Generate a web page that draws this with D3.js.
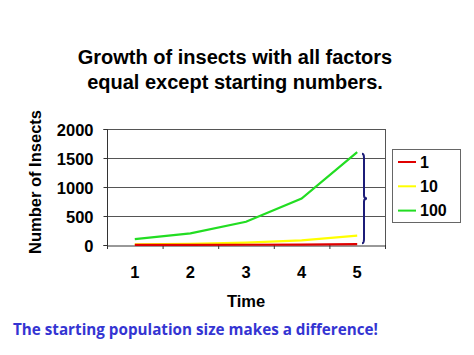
<!DOCTYPE html>
<html><head><meta charset="utf-8">
<script src="https://cdn.jsdelivr.net/npm/d3@7"></script>
<style>body{margin:0;background:#fff}svg{display:block}</style>
</head><body>
<svg id="c" width="474" height="355"></svg>
<script>
const categories = ["1","2","3","4","5"];
const series1 = [1,2,4,8,16];
const series10 = [10,20,40,80,160];
const series100 = [100,200,400,800,1600];
const seriesNames = ["1","10","100"];
const seriesColors = ["#e00000","#ffff00","#22dd22"];
const yTicks = [0,500,1000,1500,2000];

(function(){
const svg = d3.select("#c");
const pL=107, pR=385, pT=129, pB=245;
const x = d3.scaleBand().domain(categories).range([pL,pR]);
const y = d3.scaleLinear().domain([0,2000]).range([pB,pT]);
const font = "'Liberation Sans', Arial, sans-serif";

// title
svg.append("text").attr("x",235).attr("y",64).attr("text-anchor","middle")
  .attr("font-family",font).attr("font-weight","bold").attr("font-size",20)
  .text("Growth of insects with all factors");
svg.append("text").attr("x",235).attr("y",89).attr("text-anchor","middle")
  .attr("font-family",font).attr("font-weight","bold").attr("font-size",20)
  .text("equal except starting numbers.");

// gridlines
svg.append("g").selectAll("line").data(yTicks.filter(d=>d>0)).join("line")
  .attr("x1",pL).attr("x2",pR).attr("y1",d=>y(d)+0.5).attr("y2",d=>y(d)+0.5)
  .attr("stroke","#555").attr("stroke-width",1);
// right border
svg.append("line").attr("x1",pR+0.5).attr("x2",pR+0.5).attr("y1",pT).attr("y2",pB)
  .attr("stroke","#555");

// y axis
const ya = svg.append("g").attr("transform",`translate(${pL+0.5},0)`)
  .call(d3.axisLeft(y).tickValues(yTicks).tickFormat(d3.format("d")).tickSize(4).tickPadding(10));
ya.select(".domain").attr("stroke","#333").attr("d",`M-4,${pT+0.5}H0V${pB+0.5}H-4`);
ya.selectAll(".tick line").attr("stroke","#333");
ya.selectAll("text").attr("font-family",font).attr("font-weight","bold").attr("font-size",16.5).attr("fill","#000").attr("dy","0.4em");

// x axis
const xa = svg.append("g").attr("transform",`translate(0,${pB+0.5})`)
  .call(d3.axisBottom(x).tickSize(0).tickPadding(21));
xa.select(".domain").attr("stroke","#333");
xa.selectAll("text").attr("font-family",font).attr("font-weight","bold").attr("font-size",16.5).attr("fill","#000");
svg.append("g").selectAll("line").data(categories.concat(["end"])).join("line")
  .attr("x1",(d,i)=>pL+i*x.step()+0.5).attr("x2",(d,i)=>pL+i*x.step()+0.5)
  .attr("y1",pB).attr("y2",pB+4).attr("stroke","#333");

// axis titles
svg.append("text").attr("transform","translate(41,182) rotate(-90)").attr("text-anchor","middle")
  .attr("font-family",font).attr("font-weight","bold").attr("font-size",16.5).text("Number of Insects");
svg.append("text").attr("x",246).attr("y",307).attr("text-anchor","middle")
  .attr("font-family",font).attr("font-weight","bold").attr("font-size",16.5).text("Time");

// lines
const allSeries = [series1, series10, series100];
const line = d3.line().x((d,i)=>x(categories[i])+x.bandwidth()/2).y(d=>y(d));
[2,1,0].forEach(k=>{
  svg.append("path").datum(allSeries[k]).attr("d",line).attr("fill","none")
    .attr("stroke",seriesColors[k]).attr("stroke-width",2.2);
});

// brace
const bx=364, by0=y(1600)+1.5, by1=y(30), bm=(by0+by1)/2;
svg.append("path")
  .attr("d",`M${bx-2},${by0} Q${bx},${by0} ${bx},${by0+4} L${bx},${bm-3} Q${bx},${bm} ${bx+3},${bm} Q${bx},${bm} ${bx},${bm+3} L${bx},${by1-4} Q${bx},${by1} ${bx-2},${by1}`)
  .attr("fill","none").attr("stroke","#1c1c78").attr("stroke-width",2);

// legend
const lg = svg.append("g");
lg.append("rect").attr("x",392.5).attr("y",149.5).attr("width",68).attr("height",73)
  .attr("fill","#fff").attr("stroke","#666");
seriesNames.forEach((n,i)=>{
  const yy = 162 + i*24.3;
  lg.append("line").attr("x1",398).attr("x2",416).attr("y1",yy).attr("y2",yy)
    .attr("stroke",seriesColors[i]).attr("stroke-width",2);
  lg.append("text").attr("x",420).attr("y",yy+5.5).attr("font-family",font)
    .attr("font-weight","bold").attr("font-size",16).text(n);
});

// caption
const cap = svg.append("text").attr("x",13).attr("y",335)
  .attr("font-family","'Open Sans', 'Noto Sans', sans-serif").attr("font-weight","bold")
  .attr("font-size",18).attr("fill","#3434d2")
  .text("The starting population size makes a difference!");
const w = cap.node().getComputedTextLength();
cap.attr("font-size", 18*365/w);
})();
</script>
</body></html>
